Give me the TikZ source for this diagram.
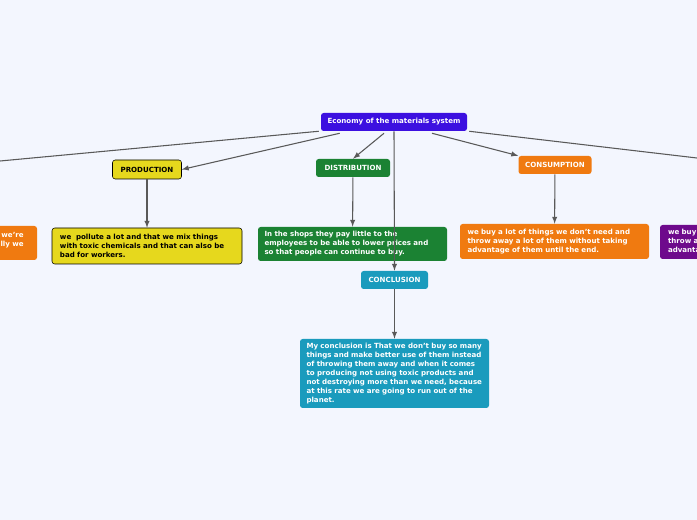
\documentclass[tikz,border=0pt]{standalone}
\usepackage{fontspec}
\setmainfont{DejaVu Sans}
\hyphenpenalty=10000
\exhyphenpenalty=10000
\begin{document}
\begin{tikzpicture}[x=0.75pt,y=-0.75pt,
 box/.style={rounded corners=2pt,inner sep=0pt,font=\fontsize{5.3}{6.8}\selectfont\bfseries,text=white},
 con/.style={draw=gray!70!black,line width=0.8pt,-{latex}},
 plain/.style={draw=gray!70!black,line width=0.8pt}]
\definecolor{bg}{HTML}{F3F6FE}
\definecolor{rootc}{HTML}{3C10E0}
\definecolor{yel}{HTML}{E6D81D}
\definecolor{grn}{HTML}{1B8233}
\definecolor{org}{HTML}{F07A10}
\definecolor{teal}{HTML}{1A9BBD}
\definecolor{pur}{HTML}{6E0A8C}
\fill[bg] (0,0) rectangle (697,520);
\useasboundingbox (0,0) rectangle (697,520);
\clip (0,0) rectangle (697,520);
\node[box,fill=rootc,minimum width=146*0.75pt,minimum height=18*0.75pt] (root) at (394,122) {Economy of the materials system};
\node[box,fill=yel,draw=black,text=black,minimum width=69*0.75pt,minimum height=19*0.75pt] (prod) at (147,169.5) {PRODUCTION};
\node[box,fill=grn,minimum width=74*0.75pt,minimum height=18*0.75pt] (dist) at (353,168) {DISTRIBUTION};
\node[box,fill=org,minimum width=73*0.75pt,minimum height=18*0.75pt] (cons) at (555,165) {CONSUMPTION};
\node[box,fill=teal,minimum width=67*0.75pt,minimum height=18*0.75pt] (concl) at (394.5,280) {CONCLUSION};
\node[box,fill=yel,draw=black,text=black,minimum width=190*0.75pt,minimum height=36*0.75pt,align=left,text width=174*0.75pt] (prodt) at (147,246) {we\ \ pollute a lot and that we mix things with toxic chemicals and that can also be bad for workers.};
\node[box,fill=grn,minimum width=189*0.75pt,minimum height=34*0.75pt,align=left,text width=176*0.75pt] (distt) at (352.5,244) {In the shops they pay little to the employees to be able to lower prices and so that people can continue to buy.};
\node[box,fill=org,minimum width=189*0.75pt,minimum height=35*0.75pt,align=left,text width=174*0.75pt] (const) at (554.5,241.5) {we buy a lot of things we don't need and throw away a lot of them without taking advantage of them until the end.};
\node[box,fill=teal,minimum width=189*0.75pt,minimum height=69*0.75pt,align=left,text width=176*0.75pt] (conclt) at (394.5,373.5) {My conclusion is That we don't buy so many things and make better use of them instead of throwing them away and when it comes to producing not using toxic products and not destroying more than we need, because at this rate we are going to run out of the planet.};
\node[box,fill=org,minimum width=190*0.75pt,minimum height=34*0.75pt] (leftb) at (-58,243) {};
\node[anchor=north east,font=\fontsize{5.3}{6.8}\selectfont\bfseries,text=white,align=right,inner sep=0pt] (lefttxt) at (24,232) {we're\\lly we};
\node[box,fill=pur,minimum width=190*0.75pt,minimum height=34*0.75pt,align=left,text width=174*0.75pt] (rightb) at (755,242) {we buy a lot of things we don't need and throw away a lot of them without taking advantage of them until the end.};
\coordinate (lend) at (0,161);
\coordinate (rend) at (697,158);
\draw[plain] (root.south west) ++(-2,0) -- (lend);
\draw[con] (root.south west)++(19,2) -- (prod.east);
\draw[con] (root.south)++(-10,2) -- (dist.north);
\draw[con] (root.south) -- (concl.north);
\draw[con] (root.south)++(38,2) -- (cons.north west);
\draw[plain] (root.south east)++(2,0) -- (rend);
\draw[con] (prod) -- (prodt);
\draw[con] (dist) -- (distt);
\draw[con] (cons) -- (const);
\draw[con] (concl) -- (conclt);
\end{tikzpicture}
\end{document}
